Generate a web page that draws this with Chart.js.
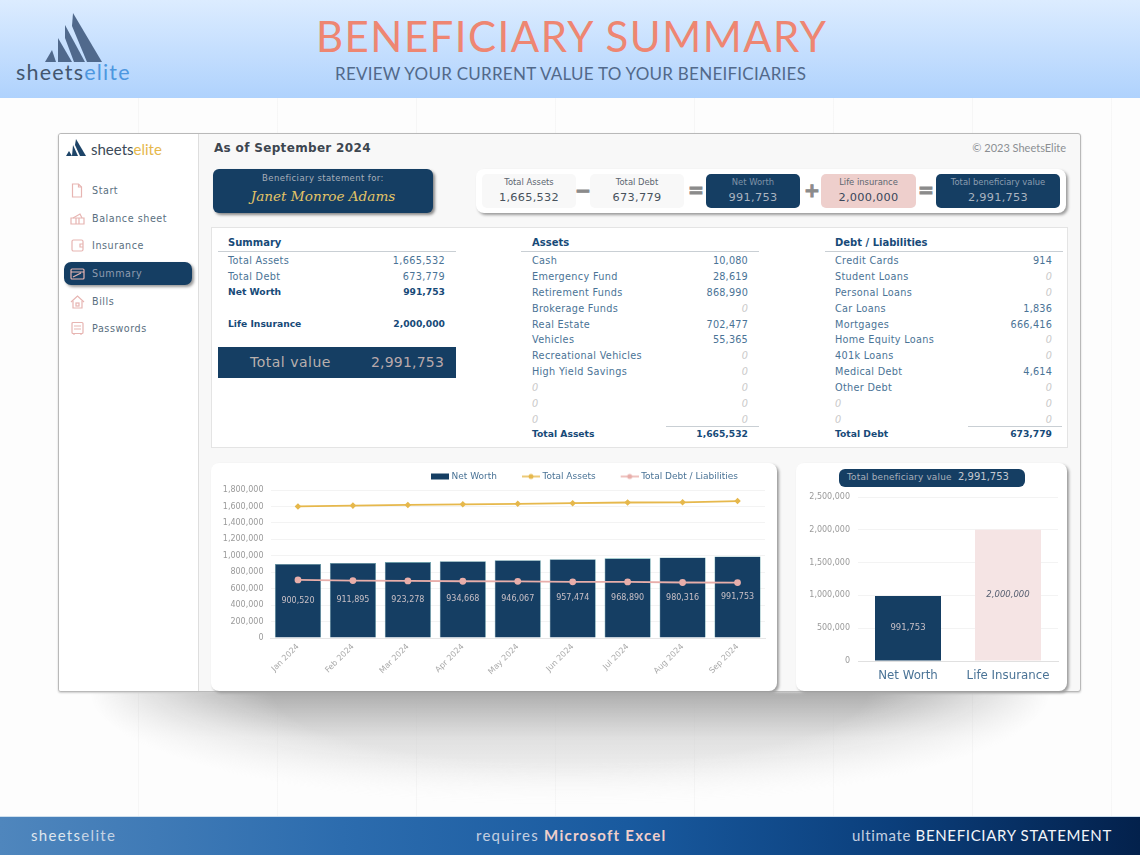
<!DOCTYPE html>
<html><head><meta charset="utf-8">
<script src="https://cdn.jsdelivr.net/npm/chart.js@4"></script>
<style>
html,body{margin:0;padding:0}
body{width:1140px;height:855px;overflow:hidden;position:relative;background:#fdfdfd;font-family:"DejaVu Sans",sans-serif;color:#4a7396}
.a{position:absolute;white-space:nowrap}
.c{text-align:center}
.r{text-align:right}
#head{left:0;top:0;width:1140px;height:98px;background:linear-gradient(#dcecff,#afd2fd)}
#foot{left:0;top:816px;width:1140px;height:39px;background:linear-gradient(90deg,#4f86bd 0%,#2c6cae 30%,#195a9f 55%,#0b3f7c 78%,#03214c 100%);border-top:1px solid #cfe0ee;box-sizing:border-box}
#shadow{left:90px;top:692px;width:960px;height:115px;background:linear-gradient(#adadad,rgba(205,205,205,.6) 40%,rgba(255,255,255,0) 100%);-webkit-mask-image:radial-gradient(ellipse 50% 100% at 50% 0,#000 62%,transparent 100%)}
#lines{left:0;top:98px;width:1140px;height:718px;background:repeating-linear-gradient(90deg,rgba(240,240,240,0) 0 138px,rgba(238,238,238,.45) 138px 139px)}
#frame{left:58px;top:133px;width:1023px;height:559px;background:#f8f8f8;border:1px solid #b9b9b9;border-radius:3px;box-sizing:border-box;overflow:hidden;box-shadow:0 1px 2px #ccc}
#side{left:0;top:0;width:140px;height:557px;background:#fff;border-right:1px solid #dedede;box-sizing:border-box}
.navy{background:#153e63}
.nav{font-size:9.6px;letter-spacing:.55px;color:#5a6f80}
.hd{font-size:10px;font-weight:700;color:#174a78}
.b{font-weight:700;color:#174a78}
.zero{color:#c9c9c9;font-style:italic}
.card{background:#fff;border-radius:8px;box-shadow:2px 2px 3px #9b9b9b}
.stat{border-radius:5px;box-sizing:border-box;height:34px}
.rule{height:1px;background:#c9cfd4}
canvas{display:block}
</style></head><body>
<div class="a" id="lines"></div>
<div class="a" id="shadow"></div>
<div class="a" id="head"></div>
<svg class="a" style="left:0;top:0" width="120" height="70"><g fill="#50698c">
<polygon points="45,62 52,50 56,62"/><polygon points="58,62 58,38 72,62"/><polygon points="65,38 65,25 85,62 74,62"/><polygon points="73,13 102,62 87,62 72,26"/></g></svg>
<div class="a" style="left:16px;top:59px;font:21.5px Lato,sans-serif;letter-spacing:1.2px;color:#43566e">sheets<span style="color:#4d97e0">elite</span></div>
<div class="a" style="left:316px;top:11px;font:42px Lato,sans-serif;letter-spacing:1.47px;color:#ee8672">BENEFICIARY SUMMARY</div>
<div class="a" style="left:335px;top:63px;font:17px Lato,sans-serif;letter-spacing:.25px;color:#52698a">REVIEW YOUR CURRENT VALUE TO YOUR BENEIFICIARIES</div>

<div class="a" id="frame"><div class="a" id="side"></div></div>

<svg class="a" style="left:64px;top:136px" width="24" height="22"><g fill="#1d4468"><polygon points="2,20 5,15 8,20"/><polygon points="8,20 9,9 14,20"/><polygon points="11,9 12,3 22,20 16,20"/></g></svg>
<div class="a" style="left:91px;top:140px;font:15px Lato,sans-serif;color:#3c4a58">sheets<span style="color:#e6b84c">elite</span></div>
<div class="a" style="left:214px;top:141px;font-size:12px;font-weight:700;letter-spacing:.33px;color:#3d4650">As of September 2024</div>
<div class="a r" style="right:74px;top:141px;font:11px Lato,sans-serif;color:#8b8f93">© 2023 SheetsElite</div>

<div class="a navy" style="left:64px;top:262px;width:128px;height:23px;border-radius:7px;box-shadow:2px 2px 3px #999"></div>
<div id="nav"></div>

<div class="a navy" style="left:213px;top:169px;width:220px;height:44px;border-radius:6px;box-shadow:2px 2px 3px #888"></div>
<div class="a c" style="left:213px;top:173px;width:220px;font-size:8.5px;letter-spacing:.4px;color:#a7aeb9">Beneficiary statement for:</div>
<div class="a c" style="left:213px;top:188px;width:220px;font:italic 13.6px 'DejaVu Serif',serif;color:#e3c466">Janet Monroe Adams</div>

<div class="a card" style="left:476px;top:169px;width:590px;height:44px"></div>
<div id="stats"></div>

<div class="a" style="left:211px;top:227px;width:857px;height:221px;background:#fff;border:1px solid #e4e4e4;box-sizing:border-box"></div>
<div id="tables"></div>
<div class="a navy" style="left:218px;top:347px;width:238px;height:31px"></div>
<div class="a" style="left:250px;top:354px;font-size:14px;letter-spacing:.5px;color:#b9b0ad">Total value</div>
<div class="a r" style="right:696px;top:354px;font-size:14px;letter-spacing:.2px;color:#b9a9ab">2,991,753</div>

<div class="a card" style="left:211px;top:463px;width:566px;height:228px"><canvas id="trend" width="566" height="228" style="width:566px;height:228px"></canvas></div>
<div class="a card" style="left:796px;top:463px;width:271px;height:228px"><canvas id="split" width="271" height="228" style="width:271px;height:228px"></canvas></div>
<div class="a navy" style="left:839px;top:469px;width:186px;height:18px;border-radius:6px"></div>
<div class="a" style="left:847px;top:472px;font-size:8.9px;letter-spacing:.2px;color:#a9b0ba">Total beneficiary value</div>
<div class="a" style="left:958px;top:471px;font-size:10px;color:#c4c9d0">2,991,753</div>

<div class="a" id="foot"></div>
<div class="a" style="left:31px;top:826px;font:15px Lato,sans-serif;letter-spacing:1.3px;color:#dfe6ee">sheets<span style="color:#c5d3e4">elite</span></div>
<div class="a" style="left:476px;top:826px;font:15px Lato,sans-serif;letter-spacing:1.25px;color:#c3cfe0">requires <b style="color:#f0cfcb">Microsoft Excel</b></div>
<div class="a r" style="right:28px;top:826px;font:15px Lato,sans-serif;letter-spacing:.66px;color:#f2f5f9"><span style="color:#c3cfe0">ultimate</span> BENEFICIARY STATEMENT</div>

<script>
// ---- chart data
const months = ['Jan 2024','Feb 2024','Mar 2024','Apr 2024','May 2024','Jun 2024','Jul 2024','Aug 2024','Sep 2024'];
const netWorth = [900520,911895,923278,934668,946067,957474,968890,980316,991753];
const totalAssets = [1600000,1610000,1618000,1626000,1632000,1640000,1648000,1650000,1665532];
const totalDebt = [706000,698000,694000,690000,689000,683000,682000,675000,673779];
const splitLabels = ['Net Worth','Life Insurance'];
const splitValues = [991753,2000000];
// ---- table data
const summaryRows = [['Total Assets','1,665,532',0],['Total Debt','673,779',0],['Net Worth','991,753',1],['','',0],['Life Insurance','2,000,000',1]];
const assetNames = ['Cash','Emergency Fund','Retirement Funds','Brokerage Funds','Real Estate','Vehicles','Recreational Vehicles','High Yield Savings','0','0','0'];
const assetValues = ['10,080','28,619','868,990','0','702,477','55,365','0','0','0','0','0'];
const debtNames = ['Credit Cards','Student Loans','Personal Loans','Car Loans','Mortgages','Home Equity Loans','401k Loans','Medical Debt','Other Debt','0','0'];
const debtValues = ['914','0','0','1,836','666,416','0','0','4,614','0','0','0'];
const navItems = ['Start','Balance sheet','Insurance','Summary','Bills','Passwords'];
const navIcons = [
 '<path d="M2.5 1h6l3 3v10h-9z"/><path d="M8.5 1v3h3"/>',
 '<path d="M1 13V7h13v6z"/><path d="M3 7l7-4 2 4"/><path d="M6 7v6M9 7v6"/>',
 '<rect x="2" y="2" width="11" height="11" rx="1.5"/><path d="M13 6h-3v3h3"/>',
 '<rect x="1" y="3" width="13" height="10" rx="1"/><path d="M1 6h13M3 11l8-4"/>',
 '<path d="M1 8l6.5-6L14 8"/><path d="M3 7v7h9V7"/><rect x="6" y="9" width="3" height="3"/>',
 '<rect x="2" y="1.5" width="11" height="11" rx="1"/><path d="M4 5h7M4 8h7M4 14v-1.5M11 14v-1.5"/>'
];

function el(parent, cls, css, text){const d=document.createElement('div');d.className='a '+cls;d.style.cssText=css;if(text!==undefined)d.textContent=text;parent.appendChild(d);return d;}

// nav
const nav=document.getElementById('nav');
const navY=[185,213,240,268,296,323];
navItems.forEach((t,i)=>{
  el(nav,'nav',`left:92px;top:${navY[i]}px;${i===3?'color:#8f9cb0':''}`,t);
  const ic=el(nav,'',`left:70px;top:${navY[i]-2}px`);
  ic.innerHTML=`<svg width="15" height="15" fill="none" stroke="#e7b5b2" stroke-width="1.2">${navIcons[i]}</svg>`;
});

// stat bar
const stats=document.getElementById('stats');
[[482,94,'#f8f8f8','Total Assets','1,665,532','#5c6670','#47525c'],
 [590,94,'#f8f8f8','Total Debt','673,779','#5c6670','#47525c'],
 [706,94,'#153e63','Net Worth','991,753','#7f93a8','#aab4c0'],
 [821,95,'#eecfcc','Life insurance','2,000,000','#5c6670','#38465a'],
 [936,124,'#153e63','Total beneficiary value','2,991,753','#8b9db0','#aab4c0']].forEach(s=>{
  el(stats,'stat',`left:${s[0]}px;top:173.5px;width:${s[1]}px;background:${s[2]}`);
  el(stats,'c',`left:${s[0]}px;top:176.5px;width:${s[1]}px;font-size:8.4px;color:${s[5]}`,s[3]);
  el(stats,'c',`left:${s[0]}px;top:190.5px;width:${s[1]}px;font-size:11.3px;letter-spacing:.3px;color:${s[6]}`,s[4]);
});
[[583,'−'],[696,'='],[812,'+'],[926,'=']].forEach(o=>{
  el(stats,'c',`left:${o[0]-12}px;top:178px;width:24px;font-size:19px;font-weight:700;color:#8b8b8b;line-height:24px;-webkit-text-stroke:1px #8b8b8b`,o[1]);
});

// tables
const tb=document.getElementById('tables');
const rowY=[255,271,287,302.5,318.5,334,350,366,382,397.5,413.5];
function col(lx,rx,ruleL,title,names,values){
  el(tb,'hd',`left:${lx}px;top:237px`,title);
  el(tb,'rule',`left:${ruleL}px;top:251px;width:238px`);
  names.forEach((n,i)=>{
    const nz=n==='0', vz=values[i]==='0';
    el(tb,nz?'zero':'',`left:${lx}px;top:${rowY[i]}px;font-size:9.7px;letter-spacing:.32px`,n);
    el(tb,vz?'zero':'',`right:${1140-rx}px;top:${rowY[i]}px;font-size:9.7px;letter-spacing:.2px`,values[i]);
  });
}
el(tb,'hd','left:228px;top:237px','Summary');
el(tb,'rule','left:218px;top:251px;width:238px');
summaryRows.forEach((r,i)=>{
  const s=r[2]?'font-weight:700;color:#174a78;font-size:9.2px':'font-size:9.7px;letter-spacing:.32px';
  const y=rowY[i]-(r[2]?1:0);
  el(tb,'',`left:228px;top:${y}px;${s}`,r[0]);
  el(tb,'',`right:695px;top:${y}px;${s}`,r[1]);
});
col(532,748,521,'Assets',assetNames,assetValues);
col(835,1052,825,'Debt / Liabilities',debtNames,debtValues);
el(tb,'rule','left:666px;top:426px;width:93px');
el(tb,'rule','left:968px;top:426px;width:94px');
[[532,748,'Total Assets','1,665,532'],[835,1052,'Total Debt','673,779']].forEach(t=>{
  el(tb,'b',`left:${t[0]}px;top:428px;font-size:9.2px`,t[2]);
  el(tb,'b',`right:${1140-t[1]}px;top:428px;font-size:9.2px`,t[3]);
});

// ---- charts
const fmt=v=>v.toLocaleString('en-US');
const font=(size,extra)=>({family:'"DejaVu Sans",sans-serif',size,...extra});
const NAVY='#153e63', GOLD='#e6b84c', PINK='#e8aeaa', GRID='#f3f3f3';

function glyph(kind,color){
  const c=document.createElement('canvas');c.width=38;c.height=10;
  const x=c.getContext('2d');x.fillStyle=color;x.strokeStyle=color;
  if(kind==='bar'){x.fillRect(20,2,18,6);}
  else{x.lineWidth=1.5;x.beginPath();x.moveTo(20,5);x.lineTo(38,5);x.stroke();x.beginPath();x.arc(29,5,2.5,0,7);x.fill();}
  return c;
}
const glyphs=[glyph('bar',NAVY),glyph('line',GOLD),glyph('line',PINK)];

const barLabels={id:'barLabels',afterDatasetsDraw(chart,_,o){
  const ctx=chart.ctx;
  chart.data.datasets.forEach((ds,di)=>{
    if(ds.type==='line')return;
    chart.getDatasetMeta(di).data.forEach((bar,i)=>{
      const p=bar.getCenterPoint();
      ctx.save();
      ctx.textAlign='center';ctx.textBaseline='middle';
      const italic=o.colors&&o.italic&&o.italic[i];
      ctx.font=(italic?'italic ':'')+o.size+'px "DejaVu Sans",sans-serif';
      ctx.fillStyle=o.colors?o.colors[i]:o.color;
      ctx.fillText(fmt(ds.data[i]),p.x,p.y);
      ctx.restore();
    });
  });
}};
const shiftLegend={id:'shiftLegend',afterLayout(chart){chart.legend.left=195;chart.legend.top+=1;}};

new Chart(document.getElementById('trend'),{
  type:'bar',
  data:{labels:months,datasets:[
    {type:'bar',label:'Net Worth',data:netWorth,backgroundColor:NAVY,borderColor:'#5fa3a8',borderWidth:.6,barPercentage:.84,categoryPercentage:1,order:2},
    {type:'line',label:'Total Assets',data:totalAssets,borderColor:GOLD,backgroundColor:GOLD,borderWidth:1.8,pointRadius:2,pointStyle:'rectRot',order:1},
    {type:'line',label:'Total Debt / Liabilities',data:totalDebt,borderColor:PINK,backgroundColor:PINK,borderWidth:1.8,pointRadius:2.5,order:1}
  ]},
  plugins:[barLabels,shiftLegend],
  options:{
    responsive:false,animation:false,devicePixelRatio:1,
    layout:{padding:{left:0,right:12,top:1,bottom:0}},
    plugins:{
      tooltip:{enabled:false},
      barLabels:{size:8,color:'#c8bfc5'},
      legend:{align:'start',labels:{
        usePointStyle:true,pointStyleWidth:34,padding:7,color:'#4a7396',font:font(9),
        generateLabels:ch=>ch.data.datasets.map((d,i)=>({text:d.label,pointStyle:glyphs[i],datasetIndex:i,fontColor:'#4a7396',lineWidth:0}))
      }}
    },
    scales:{
      x:{grid:{display:false},border:{color:'#e6e6e6'},
         afterFit:s=>{s.height=53;},
         ticks:{autoSkip:false,minRotation:45,maxRotation:45,color:'#a9a9a9',font:font(8),padding:-4}},
      y:{min:0,max:1800000,afterFit:s=>{s.width=59.5;},
         grid:{color:GRID,drawTicks:false},border:{display:false},
         ticks:{stepSize:200000,color:'#9a9a9a',font:font(8),padding:7,callback:fmt}}
    }
  }
});

new Chart(document.getElementById('split'),{
  type:'bar',
  data:{labels:splitLabels,datasets:[{label:'Beneficiary value',data:splitValues,backgroundColor:[NAVY,'#f5e4e4'],barPercentage:.66,categoryPercentage:1}]},
  plugins:[barLabels],
  options:{
    responsive:false,animation:false,devicePixelRatio:1,
    layout:{padding:{left:0,right:9,top:34,bottom:0}},
    plugins:{
      legend:{display:false},tooltip:{enabled:false},
      barLabels:{size:8.5,colors:['#c8bfc5','#555e70'],italic:[false,true]}
    },
    scales:{
      x:{grid:{display:false},border:{color:'#e0e0e0'},afterFit:s=>{s.height=30;},
         ticks:{color:'#4a7396',font:font(11.8),padding:0}},
      y:{min:0,max:2500000,afterFit:s=>{s.width=62;},
         grid:{color:GRID,drawTicks:false},border:{display:false},
         ticks:{stepSize:500000,color:'#9a9a9a',font:font(8),padding:8,callback:fmt}}
    }
  }
});
</script>
</body></html>
